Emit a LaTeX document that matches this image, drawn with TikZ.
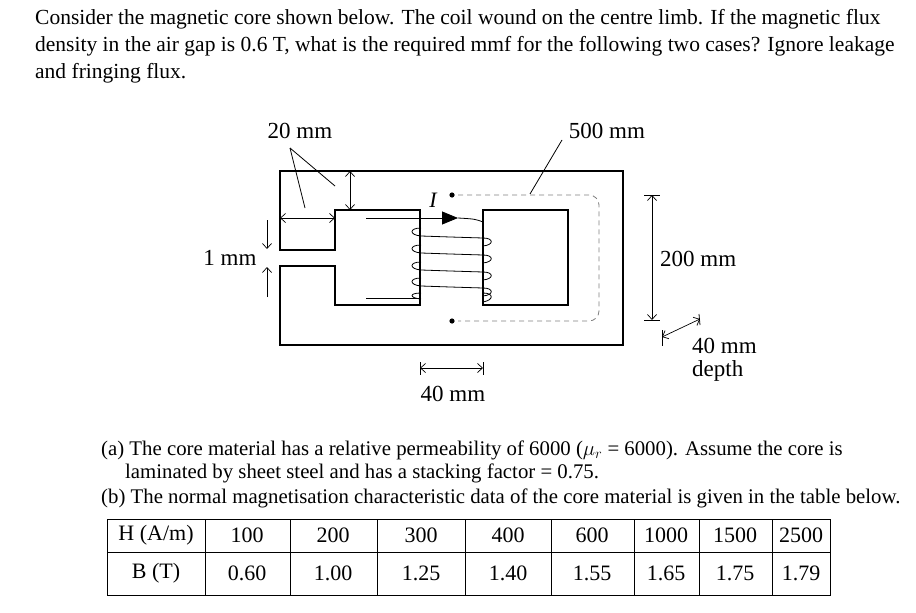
\documentclass[tikz,border=0pt]{standalone}
\usepackage{fontspec}
\setmainfont{Liberation Serif}
\usetikzlibrary{arrows.meta}
\begin{document}
\begin{tikzpicture}[x=1pt,y=-1pt,
  txt/.style={anchor=base west,inner sep=0,font=\fontsize{21.5}{24}\selectfont},
  qtxt/.style={anchor=base west,inner sep=0,font=\fontsize{20.8}{24}\selectfont},
  lbl/.style={inner sep=0,font=\fontsize{23}{24}\selectfont},
  core/.style={line width=1.6pt},
  dim/.style={line width=0.7pt,{Straight Barb[length=5pt,width=9pt]}-{Straight Barb[length=5pt,width=9pt]}},
  one/.style={line width=0.7pt,-{Straight Barb[length=5pt,width=9pt]}},
  thin/.style={line width=0.8pt},
  cell/.style={inner sep=0,font=\fontsize{22}{24}\selectfont}]
\useasboundingbox (0,0) rectangle (916,613);
\node[txt] (l1) at (35,24) {Consider the magnetic core shown below. The coil wound on the centre limb. If the magnetic flux};
\node[txt] (l2) at (35,51) {density in the air gap is 0.6 T, what is the required mmf for the following two cases? Ignore leakage};
\node[txt] (l3) at (35,78) {and fringing flux.};
% core
\draw[core] (280,250)--(280,171)--(623,171)--(623,345)--(280,345)--(280,266)--(335,266)--(335,305)--(420,305)--(420,210)--(335,210)--(335,250)--cycle;
\draw[core] (483,210) rectangle (568,305);
% coil
\draw[thin] (366,218)--(420,218);
\draw[thin] (366,298)--(420,298);
\draw[thin,-{Triangle[length=16pt,width=13pt]}] (420,218)--(458,218);
\draw[thin] (458,218) .. controls (475,219) .. (483,222);
\foreach \y in {228,245,262,278} {
  \draw[thin] (421,\y) .. controls (409,\y) and (409,\y+7) .. (421,\y+8) .. controls (450,\y+9) .. (483,\y+10) .. controls (494,\y+10) and (494,\y+17) .. (483,\y+18);
}
\draw[thin] (421,293) .. controls (409,293) and (409,298) .. (421,299);
\draw[thin] (483,293) .. controls (494,293) and (494,300) .. (483,302);
\node[lbl,font=\itshape\fontsize{22}{24}\selectfont] (I) at (433,200) {I};
% flux path
\fill (452,195) circle (2.6) coordinate (d1);
\fill (452,321) circle (2.6) coordinate (d2);
\draw[thin,gray,dash pattern=on 5pt off 4pt,rounded corners=10pt] (458,195)--(599,195)--(599,321)--(458,321);
% 20 mm
\node[lbl] (t20) at (300,131) {20 mm};
\draw[dim] (280,218)--(335,218);
\draw[dim] (350,171)--(350,210);
\draw[thin] (290,148)--(305,208);
\draw[thin] (290,148)--(335,186);
% 1 mm
\node[lbl] (t1) at (230,258) {1 mm};
\draw[one] (267,220)--(267,249);
\draw[one] (267,297)--(267,267);
% 40 mm
\draw[dim] (420,368)--(483,368);
\draw[thin] (420,362)--(420,375); \draw[thin] (483,362)--(483,375);
\node[lbl] (t40) at (453,394) {40 mm};
% 500 mm
\node[lbl] (t500) at (607,131) {500 mm};
\draw[thin] (562,140)--(530,194);
% 200 mm
\draw[dim] (652,195)--(652,320);
\draw[thin] (644,195)--(660,195); \draw[thin] (644,320)--(660,320);
\node[lbl,anchor=west] (t200) at (660,259) {200 mm};
% depth
\draw[dim] (662,337)--(700,319);
\draw[thin] (662,330)--(662,346); \draw[thin] (699,314)--(700,325);
\node[lbl,anchor=west] (tdep) at (692,346) {40 mm};
\node[lbl,anchor=west] (tdep2) at (692,371) {depth};
% questions
\node[qtxt] (qa1) at (101,455) {(a) The core material has a relative permeability of 6000 ($\mu_r$ = 6000). Assume the core is};
\node[qtxt] (qa2) at (125,478) {laminated by sheet steel and has a stacking factor = 0.75.};
\node[qtxt] (qb) at (101,503) {(b) The normal magnetisation characteristic data of the core material is given in the table below.};
% table
\draw[thin] (107,519) rectangle (830,595);
\draw[thin] (107,552)--(830,552);
\foreach \x in {205,290,377,465,551,634,699,772} \draw[thin] (\x,519)--(\x,595);
\node[cell] (h0) at (156,535) {H (A/m)};
\node[cell] (b0) at (156,573) {B (T)};
\node[cell] (h1) at (247,535) {100}; \node[cell] (b1) at (247,573) {0.60};
\node[cell] (h2) at (333,535) {200}; \node[cell] (b2) at (333,573) {1.00};
\node[cell] (h3) at (421,535) {300}; \node[cell] (b3) at (421,573) {1.25};
\node[cell] (h4) at (508,535) {400}; \node[cell] (b4) at (508,573) {1.40};
\node[cell] (h5) at (592,535) {600}; \node[cell] (b5) at (592,573) {1.55};
\node[cell] (h6) at (666,535) {1000}; \node[cell] (b6) at (666,573) {1.65};
\node[cell] (h7) at (735,535) {1500}; \node[cell] (b7) at (735,573) {1.75};
\node[cell] (h8) at (801,535) {2500}; \node[cell] (b8) at (801,573) {1.79};
\end{tikzpicture}
\end{document}
